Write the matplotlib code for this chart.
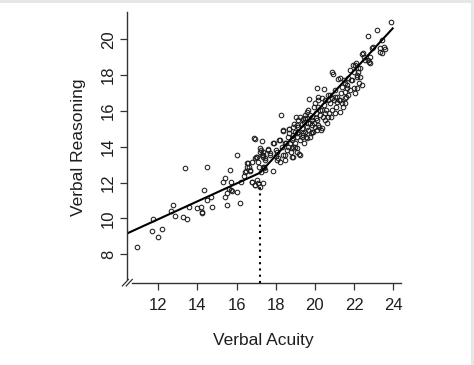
import matplotlib
matplotlib.use("Agg")
import matplotlib.pyplot as plt
from matplotlib.lines import Line2D
from matplotlib.patches import Rectangle

plt.rcParams['font.family'] = ['Liberation Sans Narrow', 'Liberation Sans', 'DejaVu Sans']

# Observed data (Verbal Acuity, Verbal Reasoning)
acuity = [
    10.93, 11.68, 11.73, 11.98, 12.22, 12.66, 12.75, 12.87, 13.26, 13.39,
    13.50, 13.56, 13.97, 14.19, 14.23, 14.26, 14.33, 14.47, 14.48, 14.70,
    14.77, 15.32, 15.40, 15.40, 15.50, 15.52, 15.63, 15.67, 15.70, 15.72,
    15.78, 16.03, 16.05, 16.18, 16.23, 16.40, 16.47, 16.52, 16.62, 16.69,
    16.78, 16.90, 16.95, 17.00, 16.95, 17.03, 17.09, 17.12, 17.17, 17.20,
    17.26, 17.31, 17.27, 17.34, 17.37, 17.37, 17.41, 17.46, 17.41, 17.63,
    17.71, 17.85, 17.92, 17.99, 18.02, 18.09, 18.19, 18.22, 18.28, 18.31,
    18.36, 18.48, 18.53, 18.60, 18.65, 18.70, 18.73, 18.77, 18.82, 18.85,
    18.89, 18.90, 18.94, 18.97, 18.99, 19.04, 19.07, 19.11, 19.16, 19.21,
    19.24, 19.33, 19.38, 19.41, 19.45, 19.50, 19.55, 19.59, 19.62, 19.67,
    19.72, 19.76, 19.79, 19.84, 19.89, 19.93, 19.98, 20.03, 20.10, 20.13,
    20.18, 20.23, 20.27, 20.30, 20.35, 20.40, 20.44, 20.47, 20.52, 20.57,
    20.61, 20.66, 20.71, 20.78, 20.83, 20.88, 20.91, 20.95, 21.00, 21.05,
    21.12, 21.20, 21.25, 21.29, 21.34, 21.42, 21.51, 21.54, 21.59, 21.63,
    21.71, 21.80, 21.85, 21.93, 22.00, 22.05, 22.10, 22.17, 22.22, 22.27,
    22.31, 22.39, 22.44, 22.51, 22.56, 22.70, 22.75, 22.82, 22.90, 22.95,
    23.19, 23.33, 23.41, 23.50, 23.58, 23.87,
    19.59, 19.76, 19.50, 19.84, 19.67, 18.39, 18.70, 18.90, 19.07, 19.16,
    19.33, 19.41, 19.59, 19.76, 19.84, 17.88, 18.22, 18.48, 18.65, 18.82,
    18.99, 19.07, 19.24, 18.90, 17.20, 17.37, 17.29, 17.46, 17.63, 17.71,
    18.05, 18.14, 18.39, 18.48, 16.61, 16.78, 16.95, 17.03, 16.52, 16.44,
    16.69, 17.37, 17.46, 16.78, 16.95, 17.20,
    23.33, 23.41, 22.39, 22.73, 22.82, 22.05, 22.22, 21.97, 22.14, 22.31,
    21.88, 21.29, 21.46, 21.63, 21.37, 21.54, 21.71, 22.14, 21.80, 20.18,
    20.52, 20.69, 20.86, 21.03, 21.12, 20.78, 21.29, 21.37, 21.54,
    20.01, 20.18, 20.35, 20.52, 20.69, 20.86, 21.03, 20.27, 20.06, 19.96,
    20.18, 20.35, 20.10, 19.84, 19.67, 19.50, 19.33, 19.45, 19.24, 19.16,
    19.07, 18.87, 18.70,
]
reasoning = [
    8.42, 9.32, 9.95, 8.95, 9.40, 10.44, 10.77, 10.14, 10.10, 12.82,
    9.95, 10.62, 10.59, 10.66, 10.29, 10.34, 11.57, 11.03, 12.85, 11.21,
    10.62, 12.04, 12.26, 11.18, 11.44, 10.77, 11.65, 12.71, 12.06, 11.59,
    11.53, 13.54, 11.46, 10.85, 12.04, 12.35, 12.67, 13.08, 12.89, 12.65,
    12.02, 14.49, 14.42, 13.45, 11.85, 12.15, 12.00, 13.17, 12.89, 13.73,
    13.82, 14.31, 12.61, 13.52, 13.45, 11.96, 12.80, 13.26, 12.89, 13.86,
    13.64, 12.67, 14.19, 13.82, 13.49, 13.26, 14.38, 13.15, 15.79, 14.01,
    14.90, 13.54, 14.19, 13.82, 14.57, 14.98, 14.19, 13.73, 14.38, 13.45,
    14.66, 14.01, 15.27, 14.85, 14.19, 15.68, 13.92, 14.57, 15.12, 13.60,
    14.38, 15.27, 14.75, 15.53, 14.19, 15.77, 14.57, 15.12, 15.59, 16.05,
    16.65, 15.31, 14.75, 15.68, 14.85, 16.24, 15.12, 15.87, 17.26, 15.50,
    16.61, 15.12, 16.05, 14.94, 16.71, 15.68, 17.20, 16.33, 15.50, 16.05,
    15.31, 16.61, 15.87, 16.89, 15.68, 18.19, 18.06, 16.61, 17.17, 16.24,
    16.80, 17.77, 16.61, 15.96, 16.98, 16.24, 17.54, 16.43, 16.80, 17.26,
    17.82, 18.29, 17.73, 18.57, 17.26, 16.98, 18.66, 17.91, 18.19, 17.54,
    18.38, 17.45, 19.22, 19.03, 18.84, 20.18, 18.75, 19.03, 19.50, 19.59,
    20.52, 19.31, 19.96, 19.59, 19.44, 20.95,
    15.96, 15.78, 15.59, 15.50, 15.31, 14.94, 14.99, 15.12, 15.22, 14.85,
    15.03, 14.66, 14.47, 14.57, 14.85, 14.19, 14.38, 14.19, 14.01, 13.92,
    14.01, 13.73, 13.54, 13.45, 13.92, 13.73, 13.54, 13.36, 13.82, 13.54,
    13.73, 13.36, 13.54, 13.26, 13.08, 13.17, 13.36, 13.45, 12.89, 12.61,
    12.71, 12.89, 12.71, 12.06, 11.87, 11.78,
    19.50, 19.25, 19.16, 18.84, 18.66, 18.57, 18.38, 18.19, 18.01, 17.91,
    17.73, 17.82, 17.73, 17.45, 17.36, 17.08, 16.89, 17.26, 17.17, 16.80,
    16.61, 16.89, 16.71, 16.80, 16.52, 16.43, 16.61, 16.43, 16.71,
    16.43, 16.24, 16.05, 15.87, 15.68, 16.05, 15.87, 15.78, 15.59, 15.35,
    15.22, 15.03, 14.94, 15.22, 14.94, 14.85, 14.57, 15.40, 15.68, 15.50,
    14.75, 14.47, 14.75,
]

# Segmented regression fit (knot at acuity ~17.2)
fit_x = [10.43, 17.2, 24.0]
fit_y = [9.17, 12.55, 20.65]
knot_x = 17.2
knot_top = 12.05

x_ticks = [12, 14, 16, 18, 20, 22, 24]
y_ticks = [8, 10, 12, 14, 16, 18, 20]
x_lim = (10.43, 24.39)
y_lim = (6.415, 21.54)

fig = plt.figure(figsize=(4.74, 3.65), dpi=100)
ax = fig.add_axes([127.3 / 474, 1 - 282.7 / 365, (401 - 127.3) / 474, (282.7 - 11.7) / 365])

ax.plot(acuity, reasoning, linestyle='none', marker='o', markersize=3.3,
        markerfacecolor='none', markeredgecolor='#1e1e1e', markeredgewidth=0.75)
ax.plot(fit_x, fit_y, color='black', linewidth=1.5, solid_capstyle='butt')
ax.plot([knot_x, knot_x], [y_lim[0], knot_top], color='black', linewidth=1.5,
        linestyle=(0, (1, 2)))

ax.set_xlim(*x_lim)
ax.set_ylim(*y_lim)
ax.set_xticks(x_ticks)
ax.set_yticks(y_ticks)
ax.set_xticklabels([str(v) for v in x_ticks], fontsize=12, color='#1e1e1e')
ax.set_yticklabels([str(v) for v in y_ticks], fontsize=12, color='#1e1e1e',
                   rotation=90, va='center')
ax.tick_params(axis='both', length=5, width=0.9, color='#333333')
ax.tick_params(axis='x', pad=6)
ax.tick_params(axis='y', pad=3)

for s in ax.spines.values():
    s.set_visible(False)
# axis lines with a break mark at the origin
ax.add_line(Line2D([0, 0], [0.014, 1], transform=ax.transAxes, color='#333333',
                   linewidth=1.0, clip_on=False))
ax.add_line(Line2D([0.018, 1], [0, 0], transform=ax.transAxes, color='#333333',
                   linewidth=1.0, clip_on=False))
for dx in (-0.018, -0.004):
    ax.add_line(Line2D([dx, dx + 0.022], [-0.012, 0.012], transform=ax.transAxes,
                       color='#333333', linewidth=0.9, clip_on=False))

fig.text(263 / 474, 1 - 340.7 / 365, 'Verbal Acuity', ha='center', va='center',
         fontsize=12.5, color='#1e1e1e')
fig.text(79 / 474, 1 - 147 / 365, 'Verbal Reasoning', ha='center', va='center',
         fontsize=12.5, color='#1e1e1e', rotation=90)

# light grey frame of the original image
fig.patches.append(Rectangle((0, 1 - 3 / 365), 1, 3 / 365, transform=fig.transFigure,
                             facecolor='#e6e6e6', edgecolor='none'))
fig.patches.append(Rectangle((1 - 3 / 474, 0), 3 / 474, 1, transform=fig.transFigure,
                             facecolor='#e6e6e6', edgecolor='none'))

fig.savefig('out.png', dpi=100)
